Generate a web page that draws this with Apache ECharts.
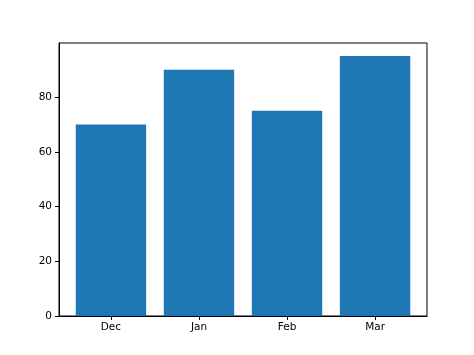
<!DOCTYPE html>
<html><head><meta charset="utf-8">
<script src="https://cdn.jsdelivr.net/npm/echarts@6/dist/echarts.min.js"></script>
<style>html,body{margin:0;padding:0;background:#fff}#c{width:474px;height:355px}</style>
</head><body><div id="c"></div>
<script>
const categories = ['Dec', 'Jan', 'Feb', 'Mar'];
const values = [70, 90, 75, 95];
const yTicks = [0, 20, 40, 60, 80];

const chart = echarts.init(document.getElementById('c'), null, {renderer: 'canvas'});
const font = 'DejaVu Sans';
chart.setOption({
  animation: false,
  grid: {left: 59, top: 43, width: 368, height: 273, show: true, borderColor: '#000', borderWidth: 1, backgroundColor: '#fff'},
  xAxis: {
    type: 'value', min: -0.59, max: categories.length - 1 + 0.59,
    splitLine: {show: false},
    axisLine: {show: true, onZero: false, lineStyle: {color: '#000', width: 1}},
    axisTick: {show: true, length: 4, customValues: categories.map((c, i) => i), lineStyle: {color: '#000'}},
    axisLabel: {customValues: categories.map((c, i) => i), formatter: v => categories[Math.round(v)] || '', color: '#000', fontFamily: font, fontSize: 10.5, margin: 6}
  },
  yAxis: {
    type: 'value', min: 0, max: Math.max(...values) * 1.05,
    splitLine: {show: false},
    axisLine: {show: true, onZero: false, lineStyle: {color: '#000', width: 1}},
    axisTick: {show: true, length: 4, customValues: yTicks, lineStyle: {color: '#000'}},
    axisLabel: {customValues: yTicks, color: '#000', fontFamily: font, fontSize: 10.5, margin: 7}
  },
  series: [{
    type: 'bar',
    data: values.map((v, i) => [i, v]),
    barWidth: 70.4,
    itemStyle: {color: '#1f77b4'}
  }]
});
</script></body></html>
